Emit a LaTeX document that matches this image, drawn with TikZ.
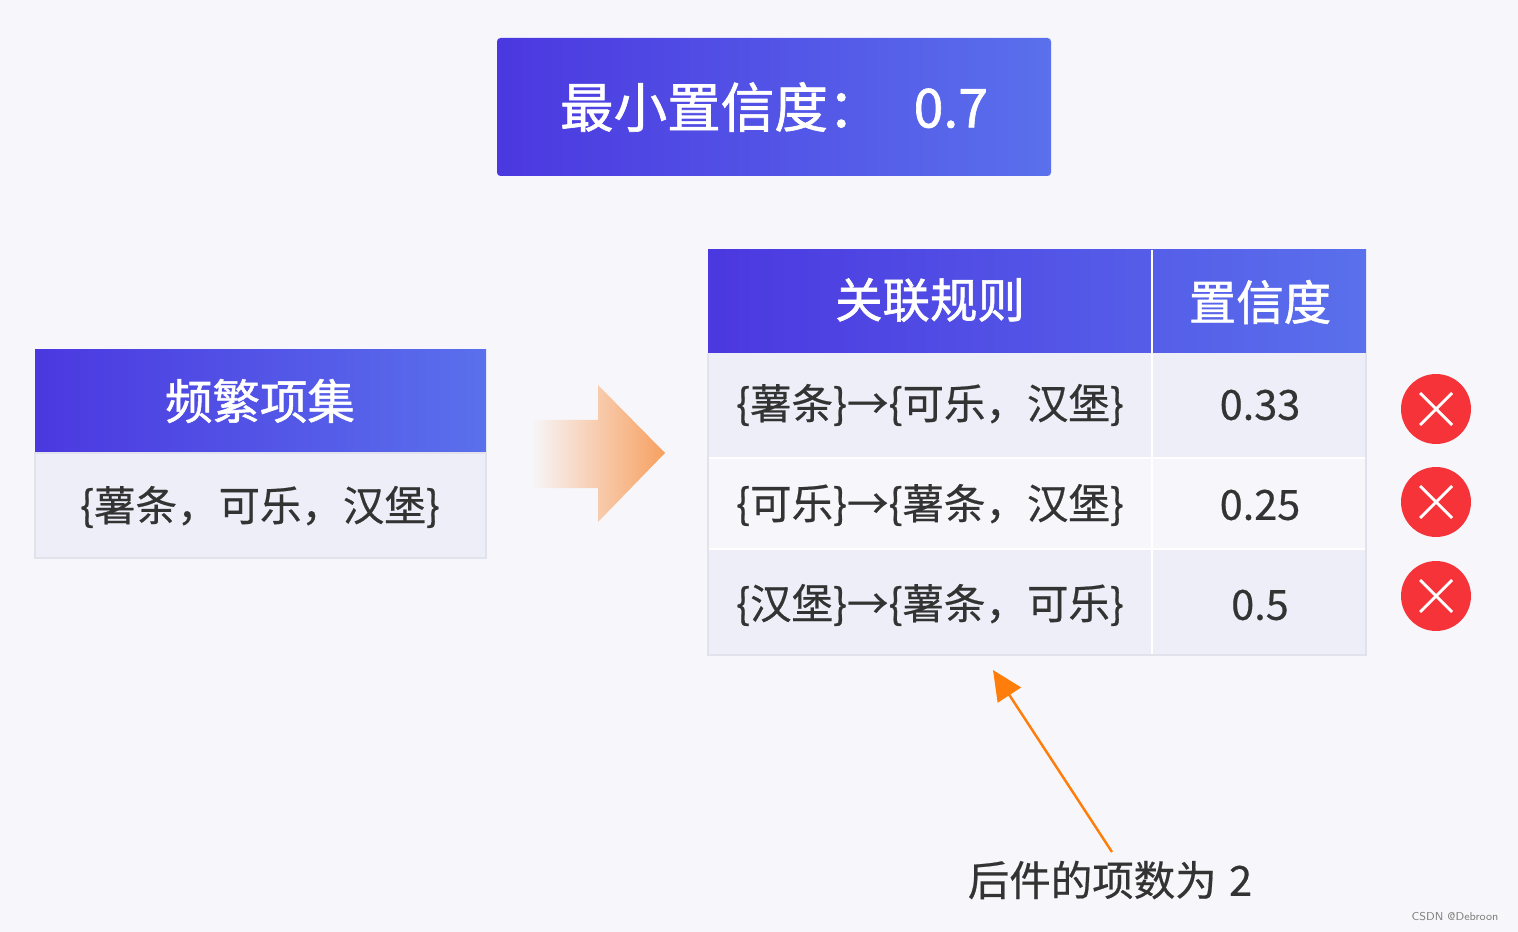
\documentclass[tikz,border=0pt]{standalone}
\usepackage{fontspec}
\setmainfont{Noto Sans CJK SC}
\newfontfamily\hdrfont[FakeBold=1.2]{Noto Sans CJK SC}
\newfontfamily\medfont[FakeBold=0.5]{Noto Sans CJK SC}
\usetikzlibrary{arrows.meta,shadings}
\definecolor{bg}{HTML}{F7F7FB}
\definecolor{gl}{HTML}{4B38E0}
\definecolor{gr}{HTML}{5A70EC}
\definecolor{rowa}{HTML}{EEEEF8}
\definecolor{rowb}{HTML}{F6F6FB}
\definecolor{bord}{HTML}{E2E2EC}
\definecolor{txt}{HTML}{333333}
\definecolor{xred}{HTML}{F53339}
\definecolor{org}{HTML}{FF7D0A}
\definecolor{arr}{HTML}{F7A060}
\begin{document}
\begin{tikzpicture}[x=0.02cm,y=-0.02cm,
  hdr/.style={left color=gl,right color=gr,draw=none},
  cell/.style={font=\medfont\fontsize{23.6}{26}\selectfont,text=txt},
  htxt/.style={font=\hdrfont\fontsize{27}{30}\selectfont,text=white},
  xmark/.style={circle,fill=xred,minimum size=1.4cm,inner sep=0pt}]
\useasboundingbox[fill=bg] (0,0) rectangle (1518,932);
% top box
\shade[hdr,rounded corners=2pt] (497,38) rectangle (1051,176);
\node[htxt,font=\hdrfont\fontsize{30.5}{34}\selectfont] (title) at (774,107) {最小置信度：\hspace{0.6em}0.7};
% left table
\shade[hdr] (35,350) rectangle (486,453);
\node[htxt] (lh) at (260,401) {频繁项集};
\draw[bord,fill=rowa,line width=1.2pt] (35,453) rectangle (486,558);
\node[cell] (lb) at (260,507) {\{薯条，可乐，汉堡\}};
% big arrow
\shade[left color=bg,right color=arr,draw=none] (530,420) -- (598,420) -- (598,385) -- (665,453) -- (598,522) -- (598,488) -- (530,488) -- cycle;
% right table
\shade[hdr] (708,250) rectangle (1366,353);
\draw[white,line width=1.5pt] (1152,250) -- (1152,353);
\node[htxt] (rh1) at (930,300) {关联规则};
\node[htxt] (rh2) at (1260,302) {置信度};
\fill[rowa] (708,353) rectangle (1366,458);
\fill[rowb] (708,458) rectangle (1366,549);
\fill[rowa] (708,549) rectangle (1366,655);
\draw[white,line width=1.5pt] (708,458) -- (1366,458) (708,549) -- (1366,549) (1152,353) -- (1152,655);
\draw[bord,line width=1.2pt] (708,353) -- (708,655) -- (1366,655) -- (1366,353);
\node[cell] (r1) at (930,405) {\{薯条\}→\{可乐，汉堡\}};
\node[cell] (r2) at (930,505) {\{可乐\}→\{薯条，汉堡\}};
\node[cell] (r3) at (930,605) {\{汉堡\}→\{薯条，可乐\}};
\node[cell] (c1) at (1260,405) {0.33};
\node[cell] (c2) at (1260,505) {0.25};
\node[cell] (c3) at (1260,605) {0.5};
\foreach \y/\n in {409/x1,502/x2,596/x3}{
  \node[xmark] (\n) at (1436,\y) {};
  \draw[white,line width=1.6pt] ([shift={(-16,-16)}]\n.center) -- ([shift={(16,16)}]\n.center)
    ([shift={(-16,16)}]\n.center) -- ([shift={(16,-16)}]\n.center);
}
% annotation
\node[cell] (note) at (1110,880) {后件的项数为\hspace{0.3em}2};
\coordinate (tail) at (1112,852);
\coordinate (tip) at (993,670);
\draw[org,line width=1.4pt,-{Triangle[length=0.6cm,width=0.55cm]}] (tail) -- (tip);
\node[text=gray,font=\fontsize{6.5}{8}\selectfont\sffamily] (wm) at (1455,917) {CSDN @Debroon};
\end{tikzpicture}
\end{document}
